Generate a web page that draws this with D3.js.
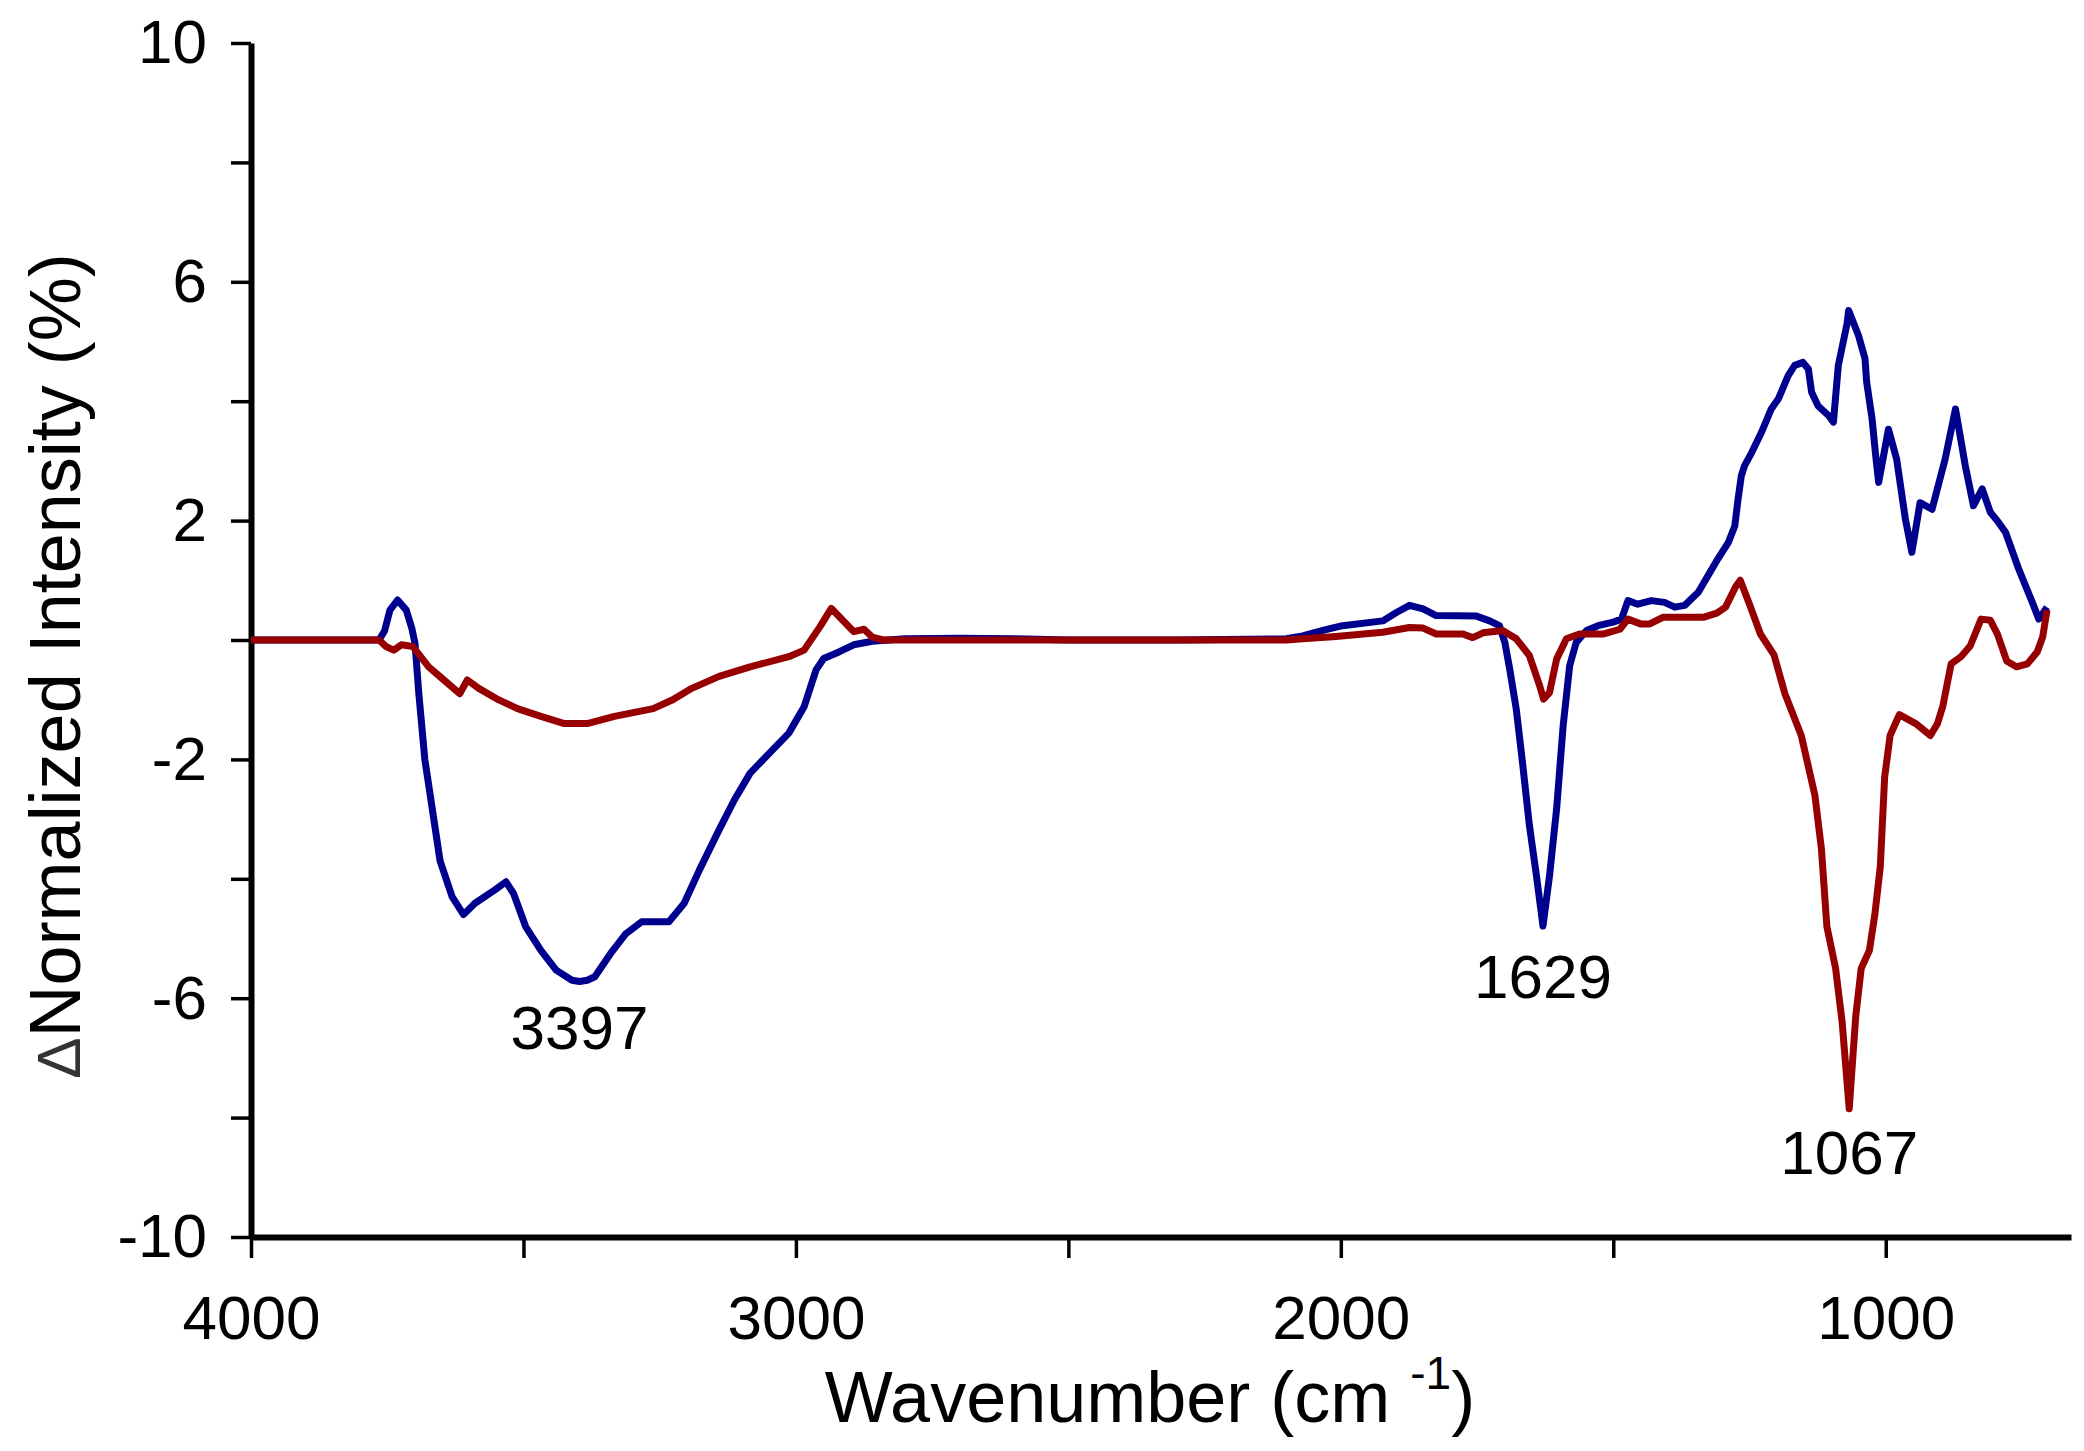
<!DOCTYPE html>
<html>
<head>
<meta charset="utf-8">
<script src="https://cdn.jsdelivr.net/npm/d3@7"></script>
<style>
  html, body { margin: 0; padding: 0; background: #fff; }
  text { font-family: "Liberation Sans", Arial, sans-serif; }
</style>
</head>
<body>
<div id="chart"></div>
<script>
// blue spectrum (wavenumber, delta normalized intensity %)
const blueWavenumber = [4000, 3800, 3765, 3755, 3745, 3731, 3715, 3705, 3699, 3692, 3681, 3667, 3653, 3631, 3610, 3589, 3553, 3532, 3518, 3496, 3468, 3440, 3411, 3397, 3383, 3369, 3340, 3312, 3283, 3233, 3205, 3177, 3141, 3113, 3084, 3049, 3013, 2985, 2963, 2949, 2921, 2894, 2860, 2800, 2700, 2600, 2500, 2300, 2100, 2070, 2033, 1997, 1923, 1898, 1874, 1849, 1825, 1751, 1727, 1709, 1699, 1690, 1678, 1666, 1654, 1641, 1629, 1617, 1604, 1592, 1580, 1568, 1549, 1528, 1500, 1485, 1473, 1455, 1430, 1406, 1387, 1369, 1344, 1326, 1308, 1289, 1277, 1271, 1265, 1259, 1246, 1228, 1210, 1197, 1179, 1167, 1152, 1142, 1136, 1124, 1105, 1096, 1087, 1071, 1068, 1050, 1038, 1035, 1025, 1019, 1013, 995, 980, 964, 952, 937, 915, 891, 872, 854, 839, 823, 808, 793, 780, 756, 731, 719, 704];
const blueIntensity = [0, 0, 0, 0.15, 0.5, 0.67, 0.5, 0.2, -0.06, -0.9, -2.0, -2.85, -3.7, -4.3, -4.6, -4.41, -4.19, -4.05, -4.25, -4.8, -5.2, -5.53, -5.7, -5.72, -5.7, -5.64, -5.25, -4.92, -4.72, -4.72, -4.41, -3.85, -3.18, -2.68, -2.23, -1.9, -1.56, -1.12, -0.5, -0.31, -0.2, -0.08, -0.02, 0.02, 0.03, 0.02, 0, 0, 0.02, 0.07, 0.16, 0.24, 0.32, 0.46, 0.58, 0.52, 0.41, 0.4, 0.32, 0.24, -0.04, -0.49, -1.16, -2.1, -3.1, -3.95, -4.79, -3.95, -2.83, -1.44, -0.43, -0.04, 0.16, 0.24, 0.3, 0.35, 0.66, 0.6, 0.66, 0.63, 0.55, 0.58, 0.8, 1.08, 1.36, 1.63, 1.91, 2.36, 2.75, 2.92, 3.14, 3.48, 3.87, 4.04, 4.43, 4.6, 4.65, 4.54, 4.15, 3.92, 3.76, 3.65, 4.6, 5.3, 5.52, 5.1, 4.71, 4.32, 3.7, 3.14, 2.64, 3.53, 3.03, 2.03, 1.47, 2.3, 2.19, 3.03, 3.87, 2.92, 2.25, 2.53, 2.14, 1.97, 1.8, 1.19, 0.63, 0.35, 0.55];

// red spectrum
const redWavenumber = [4000, 3765, 3752, 3738, 3724, 3703, 3674, 3646, 3617, 3603, 3582, 3546, 3511, 3468, 3425, 3383, 3333, 3262, 3226, 3191, 3141, 3084, 3013, 2985, 2956, 2935, 2915, 2894, 2875, 2860, 2840, 2100, 2070, 2009, 1923, 1874, 1849, 1825, 1776, 1758, 1739, 1703, 1678, 1654, 1635, 1628, 1617, 1604, 1586, 1562, 1519, 1488, 1473, 1450, 1433, 1409, 1335, 1310, 1294, 1275, 1267, 1250, 1230, 1205, 1185, 1155, 1130, 1118, 1108, 1092, 1080, 1072, 1067, 1062, 1055, 1045, 1030, 1020, 1010, 1002, 992, 975, 945, 918, 905, 895, 880, 862, 845, 825, 808, 795, 778, 760, 740, 722, 712, 704];
const redIntensity = [0, 0, -0.11, -0.17, -0.08, -0.11, -0.45, -0.67, -0.9, -0.67, -0.81, -1.0, -1.15, -1.28, -1.4, -1.4, -1.28, -1.15, -1.0, -0.81, -0.61, -0.45, -0.28, -0.17, 0.22, 0.53, 0.34, 0.14, 0.18, 0.05, 0, 0, 0.02, 0.06, 0.13, 0.21, 0.2, 0.1, 0.1, 0.04, 0.12, 0.16, 0.02, -0.26, -0.77, -0.99, -0.88, -0.32, 0.02, 0.1, 0.1, 0.18, 0.35, 0.27, 0.27, 0.38, 0.38, 0.45, 0.55, 0.9, 1.0, 0.6, 0.1, -0.25, -0.9, -1.6, -2.6, -3.5, -4.8, -5.5, -6.4, -7.3, -7.85, -7.2, -6.3, -5.5, -5.2, -4.6, -3.8, -2.3, -1.6, -1.25, -1.4, -1.6, -1.4, -1.1, -0.4, -0.28, -0.1, 0.35, 0.33, 0.1, -0.35, -0.45, -0.4, -0.2, 0.05, 0.5];

// axis ticks and peak labels
const xTicks = [4000, 3500, 3000, 2500, 2000, 1500, 1000];
const xLabelled = [4000, 3000, 2000, 1000];
const yTicks = [-10, -8, -6, -4, -2, 0, 2, 4, 6, 8, 10];
const yLabelled = [-10, -6, -2, 2, 6, 10];
const peakWavenumber = [3397, 1629, 1067];
const peakLabelY = [-6.85, -6.0, -8.95];

const width = 2084;
const height = 1451;

const svg = d3.select("#chart")
    .append("svg")
    .attr("width", width)
    .attr("height", height);

svg.append("rect")
    .attr("width", width)
    .attr("height", height)
    .attr("fill", "#fff");

const x = d3.scaleLinear().domain([4000, 660]).range([251, 2071]);
const y = d3.scaleLinear().domain([-10, 10]).range([1237, 43]);

// y axis
const yAxis = svg.append("g")
    .attr("transform", "translate(251,0)")
    .call(d3.axisLeft(y)
        .tickValues(yTicks)
        .tickSize(20)
        .tickSizeOuter(0)
        .tickPadding(24)
        .tickFormat(d => yLabelled.includes(d) ? d : ""));

// x axis
const xAxis = svg.append("g")
    .attr("transform", "translate(0,1237)")
    .call(d3.axisBottom(x)
        .tickValues(xTicks)
        .tickSize(21)
        .tickSizeOuter(0)
        .tickPadding(37)
        .tickFormat(d => xLabelled.includes(d) ? d : ""));

[yAxis, xAxis].forEach(g => {
    g.select(".domain").attr("stroke", "#000").attr("stroke-width", 6);
    g.selectAll(".tick line").attr("stroke", "#000").attr("stroke-width", 3.5);
    g.selectAll(".tick text")
        .attr("fill", "#000")
        .style("font-size", "62px")
        .style("font-family", '"Liberation Sans", Arial, sans-serif');
});

// spectra
const line = d3.line()
    .x(d => x(d[0]))
    .y(d => y(d[1]));

function drawSeries(wn, val, color) {
    svg.append("path")
        .datum(d3.zip(wn, val))
        .attr("fill", "none")
        .attr("stroke", color)
        .attr("stroke-width", 7)
        .attr("stroke-linejoin", "round")
        .attr("d", line);
}

drawSeries(blueWavenumber, blueIntensity, "#00008e");
drawSeries(redWavenumber, redIntensity, "#960000");

// peak labels
peakWavenumber.forEach((p, i) => {
    svg.append("text")
        .attr("x", x(p))
        .attr("y", y(peakLabelY[i]))
        .attr("text-anchor", "middle")
        .style("font-size", "62px")
        .style("fill", "#000")
        .text(p);
});

// axis titles
const xTitle = svg.append("text")
    .attr("x", 1150)
    .attr("y", 1422)
    .attr("text-anchor", "middle")
    .style("font-size", "72px")
    .style("fill", "#000");
xTitle.append("tspan").text("Wavenumber (cm ");
xTitle.append("tspan").attr("dy", -33).style("font-size", "46px").text("-1");
xTitle.append("tspan").attr("dy", 33).text(")");

const yTitle = svg.append("text")
    .attr("transform", "translate(80,666) rotate(-90)")
    .attr("text-anchor", "middle")
    .style("font-size", "72px")
    .style("fill", "#000");
yTitle.append("tspan").style("font-size", "62px").style("fill", "#333").text("\u0394");
yTitle.append("tspan").text("Normalized Intensity (%)");
</script>
</body>
</html>
